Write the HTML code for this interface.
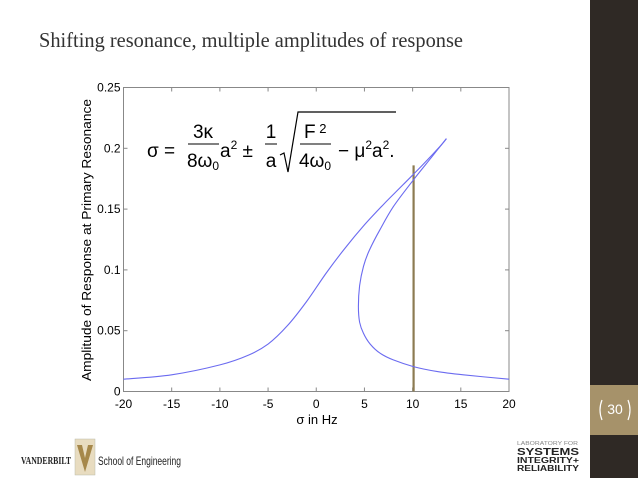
<!DOCTYPE html>
<html><head><meta charset="utf-8"><style>
body{margin:0;background:#fff}
svg{display:block}
</style></head><body>
<svg id="c" width="638" height="478" viewBox="0 0 638 478" xmlns="http://www.w3.org/2000/svg" font-family="Liberation Sans, sans-serif">
<rect x="590" y="0" width="48" height="478" fill="#2f2925"/>
<rect x="590" y="385" width="48" height="50" fill="#a6926a"/>
<text x="615" y="414" font-size="14" fill="#fff" text-anchor="middle">30</text>
<path d="M602,400 Q598,410 602,420" fill="none" stroke="#fff" stroke-width="1.2"/>
<path d="M628,400 Q632,410 628,420" fill="none" stroke="#fff" stroke-width="1.2"/>
<text x="39" y="47" font-size="21" fill="#333" style="font-family:'Liberation Serif',serif" textLength="424" lengthAdjust="spacingAndGlyphs">Shifting resonance, multiple amplitudes of response</text>

<rect x="123.5" y="87.5" width="385.5" height="304" fill="#fff" stroke="#888" stroke-width="1"/>
<g id="ticks"></g>
<g id="marks"></g>

<text x="317" y="424" font-size="13" text-anchor="middle">σ in Hz</text>
<text transform="translate(91,240) rotate(-90)" font-size="13" text-anchor="middle" textLength="282" lengthAdjust="spacingAndGlyphs">Amplitude of Response at Primary Resonance</text>

<g font-size="19" fill="#000">
<text x="147" y="157">σ =</text>
<text x="203" y="138" text-anchor="middle">3κ</text>
<line x1="188" y1="144" x2="219" y2="144" stroke="#000" stroke-width="1"/>
<text x="203" y="167" text-anchor="middle">8ω<tspan font-size="12" dy="3">0</tspan></text>
<text x="220" y="157">a<tspan font-size="12" dy="-8">2</tspan><tspan dy="8"> ±</tspan></text>
<text x="271" y="138" text-anchor="middle">1</text>
<line x1="265" y1="144" x2="277" y2="144" stroke="#000" stroke-width="1"/>
<text x="271" y="167" text-anchor="middle">a</text>
<polyline points="280,155 284,153 288,172 298,112 396,112" fill="none" stroke="#000" stroke-width="1.2"/>
<text x="304" y="138">F<tspan font-size="13" dy="-5"> 2</tspan></text>
<line x1="300" y1="144" x2="331" y2="144" stroke="#000" stroke-width="1"/>
<text x="315" y="167" text-anchor="middle">4ω<tspan font-size="12" dy="3">0</tspan></text>
<text x="338" y="157">− μ<tspan font-size="12" dy="-8">2</tspan><tspan dy="8">a</tspan><tspan font-size="12" dy="-8">2</tspan><tspan dy="8">.</tspan></text>
</g>

<g>
<text x="21" y="464" font-size="10" font-weight="bold" style="font-family:'Liberation Serif',serif" fill="#222" textLength="50" lengthAdjust="spacingAndGlyphs">VANDERBILT</text>
<rect x="75" y="439" width="20" height="36" fill="#e8dcc0" stroke="#bba" stroke-width="0.5"/>
<path d="M77,445 L85,472 L93,445 L88,445 L85,458 L82,445 Z" fill="#a6884a"/>
<text x="98" y="465" font-size="12" fill="#222" textLength="83" lengthAdjust="spacingAndGlyphs">School of Engineering</text>
</g>
<g fill="#222" font-weight="bold">
<text x="517" y="445" font-size="5" fill="#888" font-weight="normal" textLength="61" lengthAdjust="spacingAndGlyphs">LABORATORY FOR</text>
<text x="517" y="455" font-size="10" textLength="62" lengthAdjust="spacingAndGlyphs">SYSTEMS</text>
<text x="517" y="463" font-size="8" textLength="62" lengthAdjust="spacingAndGlyphs">INTEGRITY+</text>
<text x="517" y="471" font-size="8" textLength="62" lengthAdjust="spacingAndGlyphs">RELIABILITY</text>
</g>
</svg>
<script>
const xTicks = [-20,-15,-10,-5,0,5,10,15,20];
const yTicks = [0,0.05,0.1,0.15,0.2,0.25];
const yTickLabels = ["0","0.05","0.1","0.15","0.2","0.25"];
const upperSigma = [-20,-15,-10,-7,-5,-3,-1,1,3,5,7,9,11,13,13.5];
const upperAmp = [0.0101,0.0137,0.0219,0.030,0.039,0.054,0.074,0.097,0.118,0.137,0.154,0.170,0.186,0.203,0.208];
const lowerSigma = [13.5,12,10.08,8,6.6,5.5,4.9,4.5,4.37,4.5,4.89,5.6,6.62,8,10.08,12.5,15.26,20];
const lowerAmp = [0.208,0.193,0.174,0.152,0.133,0.116,0.103,0.087,0.070,0.057,0.048,0.039,0.0315,0.026,0.0205,0.0165,0.0137,0.0101];
const markerSigma = [10.1];
const markerAmp = [0.186];

const X0=123.5,X1=509,Y0=391.5,Y1=87.5;
const sx=v=>X0+(v+20)/40*(X1-X0);
const sy=v=>Y0-v/0.25*(Y0-Y1);
const NS="http://www.w3.org/2000/svg";
const tg=document.getElementById('ticks'), mg=document.getElementById('marks');
function mk(tag,attrs,parent){const e=document.createElementNS(NS,tag);for(const k in attrs)e.setAttribute(k,attrs[k]);parent.appendChild(e);return e;}
xTicks.forEach(t=>{
  const x=sx(t);
  const a=mk('line',{x1:x,x2:x,y1:Y0,y2:Y0-4,stroke:'#888'},tg);
  
  
  const b=mk('line',{x1:x,x2:x,y1:Y1,y2:Y1+4,stroke:'#888'},tg);
  
  
  const l=mk('text',{x:x,y:408,'font-size':12,'text-anchor':'middle'},tg);
  l.textContent=String(t);
  
  
});
yTicks.forEach((t,i)=>{
  const y=sy(t);
  const a=mk('line',{x1:X0,x2:X0+4,y1:y,y2:y,stroke:'#888'},tg);
  
  
  const b=mk('line',{x1:X1,x2:X1-4,y1:y,y2:y,stroke:'#888'},tg);
  
  
  const l=mk('text',{x:X0-3,y:y+4,'font-size':12,'text-anchor':'end'},tg);
  l.textContent=yTickLabels[i];
  
  
});
function path(xs,ys){
  const P=xs.map((v,i)=>[sx(v),sy(ys[i])]);
  let d='M'+P[0][0].toFixed(1)+','+P[0][1].toFixed(1);
  for(let i=0;i<P.length-1;i++){
    const p0=P[Math.max(0,i-1)],p1=P[i],p2=P[i+1],p3=P[Math.min(P.length-1,i+2)];
    const c1=[p1[0]+(p2[0]-p0[0])/6,p1[1]+(p2[1]-p0[1])/6];
    const c2=[p2[0]-(p3[0]-p1[0])/6,p2[1]-(p3[1]-p1[1])/6];
    d+=' C'+c1.map(n=>n.toFixed(1)).join(',')+' '+c2.map(n=>n.toFixed(1)).join(',')+' '+p2.map(n=>n.toFixed(1)).join(',');
  }
  return d;
}
const vl=mk('line',{x1:sx(markerSigma[0]),x2:sx(markerSigma[0]),y1:sy(0),y2:sy(markerAmp[0]),stroke:'#8c7b52','stroke-width':2.2},mg);


const p1=mk('path',{d:path(upperSigma,upperAmp),fill:'none',stroke:'#6b6bf0','stroke-width':1.1,'stroke-linejoin':'round'},mg);


const p2=mk('path',{d:path(lowerSigma,lowerAmp),fill:'none',stroke:'#6b6bf0','stroke-width':1.1,'stroke-linejoin':'round'},mg);


</script>
</body></html>
